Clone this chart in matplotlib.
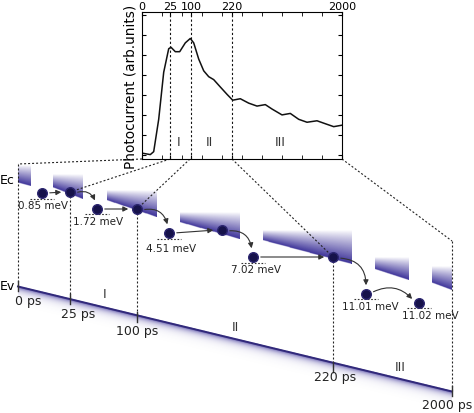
import numpy as np
import matplotlib
matplotlib.use("Agg")
import matplotlib.pyplot as plt
from matplotlib.patches import FancyArrowPatch

# ---- data ----
curve_x = [0, 8.3, 11.7, 16.7, 21.7, 26.7, 29, 33.3, 37.7, 43.3, 48.3, 51.7, 56.7, 61.7, 66.7, 71.7,
           78.3, 85, 90.7, 98.3, 106.7, 115, 123.3, 130, 140, 148.3, 156.7, 165, 175, 183.3, 191.7, 200]
curve_y = [0.04, 0.03, 0.05, 0.27, 0.59, 0.75, 0.76, 0.73, 0.73, 0.79, 0.82, 0.79, 0.68, 0.60, 0.56, 0.54,
           0.49, 0.44, 0.40, 0.41, 0.38, 0.36, 0.37, 0.34, 0.30, 0.31, 0.27, 0.25, 0.26, 0.24, 0.22, 0.23]
top_ticks = [0, 28.3, 49, 90, 200]
top_labels = ["0", "25", "100", "220", "2000"]
regions = ["I", "II", "III"]
region_x = [37, 67, 138]
time_labels = ["0 ps", "25 ps", "100 ps", "220 ps", "2000 ps"]
time_x = [18, 70, 137, 333, 452]
energies = ["0.85 meV", "1.72 meV", "4.51 meV", "7.02 meV", "11.01 meV", "11.02 meV"]

fig = plt.figure(figsize=(4.74, 4.14), dpi=100)
ax = fig.add_axes([0, 0, 1, 1])
ax.set_xlim(0, 474); ax.set_ylim(414, 0); ax.axis("off")

col = np.array([0.24, 0.2, 0.6])

# Ec blocks: x0, x1, top, ybot0, ybot1
blocks = [(18.3, 30.7, 166, 183.3, 186.7), (53.3, 83.3, 175, 188.3, 200), (106.7, 156.7, 191.7, 201.7, 218.3),
          (180, 240, 213.3, 223.3, 240), (263.3, 351.7, 231.7, 241.7, 265), (375, 408.3, 258.3, 270, 280.7),
          (431.7, 451.7, 266.7, 283.3, 290.7)]
for x0, x1, top, b0, b1 in blocks:
    nx, ny = 80, 120
    xs = np.linspace(x0, x1, nx); ys = np.linspace(top, b1, ny)
    X, Y = np.meshgrid(xs, ys)
    yb = b0 + (b1 - b0) * (X - x0) / (x1 - x0)
    a = np.clip((Y - top) / (yb - top), 0, 1) ** 0.9
    a[Y > yb] = 0
    img = np.zeros((ny, nx, 4)); img[..., :3] = col; img[..., 3] = a
    ax.imshow(img, extent=[x0, x1, b1, top], origin="upper", aspect="auto", interpolation="bilinear", zorder=1)

# Ev band
x0, x1, y0, y1 = 18, 452, 287, 392
nx, ny = 400, 300
xs = np.linspace(x0, x1, nx); ys = np.linspace(y0, y1 + 12, ny)
X, Y = np.meshgrid(xs, ys)
yl = y0 + (y1 - y0) * (X - x0) / (x1 - x0)
d = Y - yl
a = np.where(d >= 0, np.exp(-d / 3.5), 0)
img = np.zeros((ny, nx, 4)); img[..., :3] = col; img[..., 3] = a
ax.imshow(img, extent=[x0, x1, y1 + 12, y0], origin="upper", aspect="auto", interpolation="bilinear", zorder=1)
ax.plot([x0, x1], [y0 + 0.5, y1 + 0.5], color=col * 0.8, lw=1.4, zorder=2)

dk = dict(color="#222222", lw=0.8, ls=(0, (1.8, 1.8)), zorder=2)
ax.plot([142, 18], [160, 165], **dk)
ax.plot([170, 70], [160, 193], **dk)
ax.plot([190, 137], [160, 210], **dk)
ax.plot([232, 333], [160, 258], **dk)
ax.plot([342, 452], [160, 242], **dk)
tops = [165, 193, 210, 258, 242]
bots = [287, 300, 318, 368, 392]
for x, t, b in zip(time_x, tops, bots):
    ax.plot([x, x], [t, b], **dk)
    ax.plot([x, x], [b - 5, b + 5], color="#333333", lw=1, zorder=3)
lab_pos = [(28, 302), (78, 315), (137, 332), (335, 378), (447, 406)]
for t, (x, y) in zip(time_labels, lab_pos):
    ax.text(x, y, t, ha="center", va="center", fontsize=9, color="#222222")
for t, (x, y) in zip(regions, [(105, 295), (235, 328), (400, 368)]):
    ax.text(x, y, t, ha="center", va="center", fontsize=9, color="#333333")
ax.text(0, 181, "Ec", ha="left", va="center", fontsize=9)
ax.text(0, 287, "Ev", ha="left", va="center", fontsize=9)

# electrons
ex = [42, 70, 97, 137, 169, 222, 253, 333, 366, 419]
ey = [194, 193, 210, 210, 234, 231, 258, 258, 295, 304]
ax.scatter(ex, ey, s=48, color="#16124a", edgecolor="#2c2670", zorder=6)
lev = [(42, 200), (97, 215), (169, 240), (253, 264), (366, 300), (419, 309)]
elab = [(43, 206), (98, 222), (171, 249), (256, 270), (370, 307), (430, 316)]
for (x, y), (lx, ly), t in zip(lev, elab, energies):
    ax.plot([x - 12, x + 12], [y, y], color="#333333", lw=0.8, ls=(0, (1.5, 1.5)), zorder=4)
    ax.text(lx, ly, t, ha="center", va="center", fontsize=7.5, color="#222222")
arrows = [((47, 194), (64, 193), 0), ((75, 194), (96, 204), -0.5), ((102, 210), (131, 210), 0),
          ((142, 211), (168, 228), -0.5), ((174, 234), (216, 231), 0), ((227, 232), (252, 252), -0.5),
          ((258, 258), (327, 258), 0), ((338, 259), (366, 289), -0.5), ((371, 294), (414, 302), -0.4)]
for p, q, r in arrows:
    ax.add_patch(FancyArrowPatch(p, q, connectionstyle=f"arc3,rad={r}", arrowstyle="-|>,head_length=3,head_width=1.5",
                                 color="#333333", lw=0.8, zorder=5))

# top photocurrent plot
ta = fig.add_axes([142 / 474, (414 - 160) / 414, 200 / 474, 147 / 414])
ta.plot(curve_x, curve_y, color="#111111", lw=1.1)
ta.set_xlim(0, 200); ta.set_ylim(0, 1)
for x in top_ticks[1:4]:
    ta.axvline(x, color="#111111", lw=0.8, ls=(0, (2, 2)))
for x, t in zip(region_x, regions):
    ta.text(x, 0.12, t, ha="center", va="center", fontsize=9, color="#333333")
ta.xaxis.tick_top()
ta.set_xticks(top_ticks); ta.set_xticklabels(top_labels, fontsize=8)
ta.set_xticks(np.linspace(0, 200, 11), minor=True)
ta.set_yticks(np.linspace(0.03, 0.98, 8)); ta.set_yticklabels([])
ta.tick_params(direction="in", which="both", top=True, bottom=True, left=True, right=True, length=3, pad=1)
ta.set_ylabel("Photocurrent (arb.units)", fontsize=9.8, labelpad=2)

fig.savefig("out.png", dpi=100)
